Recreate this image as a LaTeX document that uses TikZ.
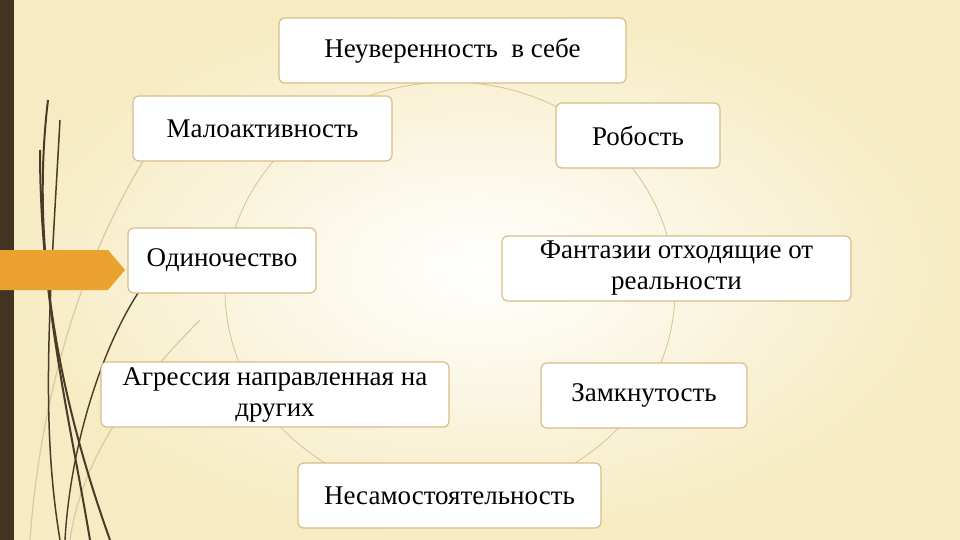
\documentclass[tikz,border=0pt]{standalone}
\usepackage{fontspec}
\setmainfont{Liberation Serif}
\begin{document}
\begin{tikzpicture}[x=1pt,y=-1pt,
  box/.style={draw=boxline,line width=1.2pt,fill=white,rounded corners=6pt,inner sep=0pt,align=center,font=\fontsize{27}{31}\selectfont},
  deco/.style={draw=decobrown,line width=2pt},
  decol/.style={draw=decotan,line width=1.2pt}]
\definecolor{boxline}{HTML}{D9BD86}
\definecolor{bgedge}{HTML}{F6EBC2}
\definecolor{decobrown}{HTML}{4A3A26}
\definecolor{decotan}{HTML}{D8C9A0}
\definecolor{orangearr}{HTML}{EAA12E}
\definecolor{ringcol}{HTML}{D6C38E}
\useasboundingbox (0,0) rectangle (960,540);
\shade[inner color=white,outer color=bgedge] (0,0) rectangle (960,540);
\fill[decobrown!90!black] (0,0) rectangle (14,540);
% decorative curves
\draw[decol] (150,150) .. controls (80,260) and (40,400) .. (30,540);
\draw[decol] (200,320) .. controls (120,400) and (80,470) .. (70,540);
\draw[deco] (48,100) .. controls (30,250) and (60,400) .. (110,540);
\draw[deco] (40,150) .. controls (40,300) and (70,420) .. (90,540);
\draw[deco,line width=1.5pt] (60,120) .. controls (50,300) and (40,420) .. (60,540);
\draw[deco,line width=1.4pt] (140,290) .. controls (100,350) and (70,450) .. (65,540);
% ring
\draw[ringcol,line width=0.8pt] (450,290) ellipse (225 and 208);
\fill[orangearr] (0,250) -- (108,250) -- (125,270) -- (108,290) -- (0,290) -- cycle;
\node[box,minimum width=347,minimum height=65] (a) at (452.5,50.5) {Неуверенность\ \ в себе};
\node[box,minimum width=259,minimum height=65] (b) at (262.5,128.5) {Малоактивность};
\node[box,minimum width=164,minimum height=65] (c) at (638,135.5) {Робость};
\node[box,minimum width=188,minimum height=65] (d) at (222,260.5) {Одиночество};
\node[box,minimum width=349,minimum height=65] (e) at (676.5,268.5) {Фантазии отходящие от\\реальности};
\node[box,minimum width=348,minimum height=65] (f) at (275,394.5) {Агрессия направленная на\\других};
\node[box,minimum width=206,minimum height=65] (g) at (644,395.5) {Замкнутость};
\node[box,minimum width=303,minimum height=65] (h) at (449.5,495.5) {Несамостоятельность};
\end{tikzpicture}
\end{document}
